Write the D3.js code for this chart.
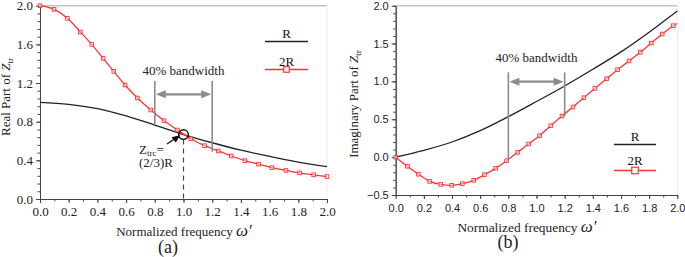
<!DOCTYPE html>
<html>
<head>
<meta charset="utf-8">
<script src="https://cdn.jsdelivr.net/npm/d3@7"></script>
<style>
  body { margin: 0; background: #fff; }
  svg { display: block; }
</style>
</head>
<body>
<svg id="chart" width="685" height="257"></svg>
<script>
// ---- data ----
// (a) real part
const freqGrid = [0, 0.2, 0.4, 0.6, 0.8, 1.0, 1.2, 1.4, 1.6, 1.8, 2.0];
const realR = [1.0, 0.98, 0.935, 0.86, 0.765, 0.667, 0.582, 0.505, 0.44, 0.382, 0.334];
const freqMarkA = [0, 0.098, 0.191, 0.281, 0.36, 0.44, 0.514, 0.593, 0.679, 0.772, 0.865, 0.958,
                   1.051, 1.147, 1.242, 1.333, 1.428, 1.523, 1.616, 1.714, 1.809, 1.907, 2.0];
const real2R = [2.0, 1.962, 1.869, 1.728, 1.6, 1.455, 1.321, 1.179, 1.045, 0.921, 0.81, 0.714,
                0.624, 0.552, 0.497, 0.445, 0.397, 0.36, 0.325, 0.296, 0.27, 0.25, 0.232];
// (b) imaginary part
const imagR = [0, 0.09, 0.2, 0.35, 0.535, 0.735, 0.94, 1.16, 1.39, 1.65, 1.93];
const freqMarkB = [0, 0.083, 0.161, 0.241, 0.32, 0.398, 0.473, 0.554, 0.63, 0.71, 0.788, 0.866,
                   0.944, 1.022, 1.101, 1.181, 1.259, 1.337, 1.415, 1.498, 1.576, 1.657, 1.737,
                   1.815, 1.893, 1.972];
const imag2R = [0, -0.12, -0.225, -0.32, -0.36, -0.372, -0.35, -0.306, -0.232, -0.148, -0.047, 0.063,
                0.174, 0.284, 0.416, 0.543, 0.662, 0.785, 0.908, 1.036, 1.155, 1.27, 1.384,
                1.507, 1.626, 1.736];
const imag2REnd = [2.0, 1.765];

const xTicks = [0, 0.2, 0.4, 0.6, 0.8, 1.0, 1.2, 1.4, 1.6, 1.8, 2.0];
const yTicksA = [0, 0.4, 0.8, 1.2, 1.6, 2.0];
const yTicksB = [-0.5, 0, 0.5, 1.0, 1.5, 2.0];
const band = [0.8, 1.2];

const RED = "#f33";
const BLACK = "#222";
const GREY = "#8c8c8c";
const SERIF = "Liberation Serif";
const SANS = "Liberation Sans";

const svg = d3.select("#chart");
const fmt = d3.format(".1f");

function range(a, b, step) {
  const out = [];
  for (let v = a; v <= b + 1e-9; v += step) out.push(+v.toFixed(4));
  return out;
}

function drawPanel(p) {
  const x = d3.scaleLinear().domain([0, 2]).range([p.x0, p.x1]);
  const y = d3.scaleLinear().domain(p.yDomain).range([p.y0, p.y1]);
  const g = svg.append("g");

  // frame: top grey line, faint right edge
  g.append("line").attr("x1", p.x0).attr("x2", p.x1).attr("y1", p.y1).attr("y2", p.y1)
    .attr("stroke", "#c4c4c4").attr("stroke-width", 1.5);
  g.append("line").attr("x1", p.x1).attr("x2", p.x1).attr("y1", p.y1).attr("y2", p.y0)
    .attr("stroke", "#ececec").attr("stroke-width", 1);

  // minor ticks
  g.append("g").attr("transform", `translate(0,${p.y0})`)
    .call(d3.axisBottom(x).tickValues(range(0, 2, 0.1)).tickSize(2.5).tickSizeOuter(0).tickFormat(""))
    .call(a => a.selectAll("line, path").attr("stroke", "#444"));
  g.append("g").attr("transform", `translate(${p.x0},0)`)
    .call(d3.axisLeft(y).tickValues(range(p.yDomain[0], p.yDomain[1], p.yMinor)).tickSize(2.5).tickSizeOuter(0).tickFormat(""))
    .call(a => a.selectAll("line, path").attr("stroke", "#444"));

  // major ticks + labels
  const xa = g.append("g").attr("transform", `translate(0,${p.y0})`)
    .call(d3.axisBottom(x).tickValues(xTicks).tickSize(4).tickSizeOuter(0).tickPadding(p.xPad).tickFormat(fmt));
  const ya = g.append("g").attr("transform", `translate(${p.x0},0)`)
    .call(d3.axisLeft(y).tickValues(p.yTicks).tickSize(4).tickSizeOuter(0).tickPadding(3).tickFormat(fmt));
  [xa, ya].forEach(a => {
    a.attr("font-family", null).attr("font-size", null);
    a.selectAll("line, path").attr("stroke", "#444");
    a.selectAll("text").attr("fill", "#222").style("font-family", p.tickFont).style("font-size", p.tickSize + "px");
  });

  const line = d3.line().x(d => x(d[0])).y(d => y(d[1])).curve(d3.curveCatmullRom);

  // R curve
  g.append("path").datum(freqGrid.map((f, i) => [f, p.curveR[i]]))
    .attr("d", line).attr("fill", "none").attr("stroke", BLACK).attr("stroke-width", 1.3);

  // 2R curve with square markers
  const pts = p.freq2R.map((f, i) => [f, p.curve2R[i]]);
  g.append("path").datum(p.end2R ? pts.concat([p.end2R]) : pts)
    .attr("d", line).attr("fill", "none").attr("stroke", RED).attr("stroke-width", 1.3);
  g.append("g").selectAll("rect").data(pts).join("rect")
    .attr("x", d => x(d[0]) - 1.8).attr("y", d => y(d[1]) - 1.8)
    .attr("width", 3.6).attr("height", 3.6)
    .attr("fill", "#fff").attr("fill-opacity", 0.5).attr("stroke", RED).attr("stroke-width", 0.9);

  // bandwidth annotation
  const ag = g.append("g").attr("stroke", GREY).attr("fill", GREY);
  ag.append("line").attr("x1", x(band[0])).attr("x2", x(band[0]))
    .attr("y1", y(p.barTop)).attr("y2", y(p.barBottom[0])).attr("stroke-width", 1.6);
  ag.append("line").attr("x1", x(band[1])).attr("x2", x(band[1]))
    .attr("y1", y(p.barTop)).attr("y2", y(p.barBottom[1])).attr("stroke-width", 1.6);
  const ay = y(p.arrowY), ax0 = x(band[0]) + 1, ax1 = x(band[1]) - 1;
  ag.append("line").attr("x1", ax0 + 8).attr("x2", ax1 - 8).attr("y1", ay).attr("y2", ay).attr("stroke-width", 2.2);
  ag.append("path").attr("stroke", "none")
    .attr("d", `M${ax0},${ay}L${ax0 + 10},${ay - 4}L${ax0 + 10},${ay + 4}Z M${ax1},${ay}L${ax1 - 10},${ay - 4}L${ax1 - 10},${ay + 4}Z`);
  g.append("text").attr("x", (x(band[0]) + x(band[1])) / 2 + p.bandDx).attr("y", p.bandY)
    .attr("text-anchor", "middle").style("font-family", SERIF).style("font-size", "13px").attr("fill", "#222")
    .text("40% bandwidth");

  // legend
  const lg = g.append("g");
  const [lx0, lx1] = p.legX;
  const lcx = (lx0 + lx1) / 2;
  lg.append("text").attr("x", lcx).attr("y", p.legY[0]).attr("text-anchor", "middle")
    .style("font-family", SERIF).style("font-size", "13px").attr("fill", "#111").text("R");
  lg.append("line").attr("x1", lx0).attr("x2", lx1).attr("y1", p.legY[1]).attr("y2", p.legY[1])
    .attr("stroke", BLACK).attr("stroke-width", 1.3);
  lg.append("text").attr("x", lcx).attr("y", p.legY[2]).attr("text-anchor", "middle")
    .style("font-family", SERIF).style("font-size", "13px").attr("fill", "#111").text("2R");
  lg.append("line").attr("x1", lx0).attr("x2", lx1).attr("y1", p.legY[3]).attr("y2", p.legY[3])
    .attr("stroke", RED).attr("stroke-width", 1.3);
  lg.append("rect").attr("x", lcx - p.legBox / 2).attr("y", p.legY[3] - p.legBox / 2)
    .attr("width", p.legBox).attr("height", p.legBox).attr("fill", "#fff").attr("stroke", RED).attr("stroke-width", 1.2);

  // axis titles
  const xt = g.append("text").attr("x", p.xTitle[0]).attr("y", p.xTitle[1]).attr("text-anchor", "middle")
    .style("font-family", SERIF).style("font-size", p.titleSize + "px").attr("fill", "#222");
  xt.append("tspan").text("Normalized frequency ");
  xt.append("tspan").style("font-style", "italic").style("font-size", "17px").text("\u03C9\u2032");

  const yt = g.append("text").attr("transform", `translate(${p.yTitle[0]},${p.yTitle[1]}) rotate(-90)`)
    .attr("text-anchor", "middle").style("font-family", SERIF).style("font-size", "13px").attr("fill", "#222");
  yt.append("tspan").text(p.yLabel + " ");
  yt.append("tspan").style("font-style", "italic").text("Z");
  yt.append("tspan").attr("dy", 3).style("font-size", "9px").text("tr");

  g.append("text").attr("x", p.caption[0]).attr("y", p.caption[1]).attr("text-anchor", "middle")
    .style("font-family", SERIF).style("font-size", "18px").attr("fill", "#222").text(p.captionText);

  return { g, x, y };
}

// ---- panel (a) ----
const A = drawPanel({
  x0: 40, x1: 327, y0: 199, y1: 5.7, yDomain: [0, 2], yTicks: yTicksA, yMinor: 0.08,
  tickFont: SERIF, tickSize: 13, xPad: 4,
  curveR: realR, freq2R: freqMarkA, curve2R: real2R, end2R: null,
  barTop: 1.22, barBottom: [0.765, 0.49], arrowY: 1.083, bandY: 75, bandDx: 0,
  legX: [265, 308], legY: [38, 41.5, 66, 69.5], legBox: 5.5,
  xTitle: [184, 236], titleSize: 13, yTitle: [10, 97], yLabel: "Real Part of",
  caption: [168, 253], captionText: "(a)"
});

// Ztrc = (2/3)R marker, pointer and dashed guide
const ztrc = 2 / 3;
A.g.append("line").attr("x1", A.x(1)).attr("x2", A.x(1)).attr("y1", A.y(ztrc) + 5).attr("y2", A.y(0))
  .attr("stroke", "#444").attr("stroke-width", 1.2).attr("stroke-dasharray", "5,4");
A.g.append("circle").attr("cx", A.x(1)).attr("cy", A.y(ztrc)).attr("r", 4.8)
  .attr("fill", "none").attr("stroke", "#111").attr("stroke-width", 1.4);
A.g.append("line").attr("x1", 167).attr("y1", 144).attr("x2", 175).attr("y2", 138.5)
  .attr("stroke", "#111").attr("stroke-width", 1.3);
A.g.append("path").attr("d", "M180.5,135 L171.5,137.2 L175.8,142.6 Z").attr("fill", "#111");
const zt = A.g.append("text").attr("x", 139).attr("y", 154).style("font-family", SERIF)
  .style("font-size", "13px").attr("fill", "#222");
zt.append("tspan").text("Z");
zt.append("tspan").attr("dy", 2).style("font-size", "9px").text("trc");
zt.append("tspan").attr("dy", -2).text("=");
A.g.append("text").attr("x", 139).attr("y", 167).style("font-family", SERIF)
  .style("font-size", "13px").attr("fill", "#222").text("(2/3)R");

// ---- panel (b) ----
drawPanel({
  x0: 395.7, x1: 677.3, y0: 195, y1: 5.7, yDomain: [-0.5, 2], yTicks: yTicksB, yMinor: 0.1,
  tickFont: SANS, tickSize: 11, xPad: 5,
  curveR: imagR, freq2R: freqMarkB, curve2R: imag2R, end2R: imag2REnd,
  barTop: 1.12, barBottom: [-0.05, 0.54], arrowY: 0.996, bandY: 62, bandDx: 0,
  legX: [614, 656], legY: [141, 144.5, 165, 170.5], legBox: 6.5,
  xTitle: [527, 232], titleSize: 13.4, yTitle: [358, 104], yLabel: "Imaginary Part of",
  caption: [508, 248], captionText: "(b)"
});
</script>
</body>
</html>
